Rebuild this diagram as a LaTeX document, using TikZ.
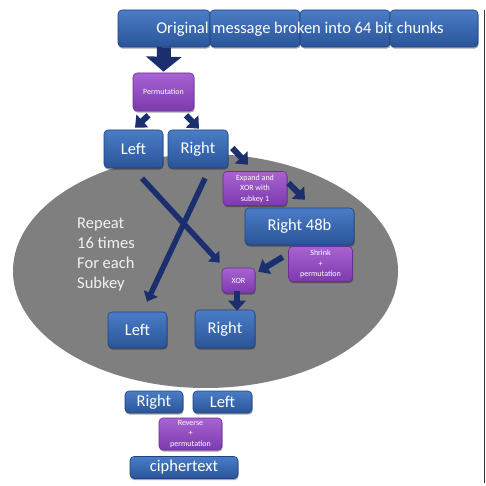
\documentclass[tikz,border=0pt]{standalone}
\usepackage{fontspec}
\setmainfont{Carlito}
\usetikzlibrary{arrows.meta,shadows}
\definecolor{navy}{HTML}{1B2F6E}
\definecolor{bluetop}{HTML}{4A7DC6}
\definecolor{bluebot}{HTML}{2A5499}
\definecolor{blueedge}{HTML}{1E4282}
\definecolor{purptop}{HTML}{A862D2}
\definecolor{purpbot}{HTML}{7D3AAD}
\definecolor{purpedge}{HTML}{6A2E96}
\definecolor{ellgray}{HTML}{7F7F7F}
\tikzset{
  softshadow/.style={drop shadow={shadow xshift=0.6pt, shadow yshift=-1.6pt, opacity=0.35, fill=black}},
  bluebox/.style={softshadow, rounded corners=4pt, top color=bluetop, bottom color=bluebot, draw=blueedge, line width=0.6pt, text=white, inner sep=0pt, font=\fontsize{16.5}{18}\selectfont},
  purpbox/.style={softshadow, rounded corners=4pt, top color=purptop, bottom color=purpbot, draw=purpedge, line width=0.6pt, text=white, inner sep=0pt, align=center, font=\fontsize{8}{10.5}\selectfont},
  fatarrow/.style={draw=navy, line width=6pt, -{Triangle[width=17pt,length=10pt]}},
  crossarrow/.style={draw=navy, line width=5.5pt, -{Triangle[width=15pt,length=9pt]}},
  bigarrow/.style={draw=navy, line width=14pt, -{Triangle[width=35pt,length=15pt]}},
}
\begin{document}
\begin{tikzpicture}[x=1pt,y=-1pt]
\useasboundingbox[fill=white] (0,0) rectangle (486,486);
% gray loop ellipse
\fill[ellgray] (205.5,271) ellipse [x radius=192.5, y radius=117];
% slide border
\draw[black!80, line width=0.8pt] (484,10) -- (484,483);
% top bar
\node[bluebox, minimum width=92pt, minimum height=37pt] (b1) at (164,28.5) {};
\node[bluebox, minimum width=90pt, minimum height=37pt] (b2) at (255,28.5) {};
\node[bluebox, minimum width=90pt, minimum height=37pt] (b3) at (345,28.5) {};
\node[bluebox, minimum width=88pt, minimum height=37pt] (b4) at (434,28.5) {};
\node[text=white, font=\fontsize{16.5}{18}\selectfont] (msg) at (300,29.5) {Original message broken into 64 bit chunks};
% permutation
\node[purpbox, minimum width=61pt, minimum height=38pt] (perm) at (163.5,92) {Permutation};
\node[bluebox, minimum width=59pt, minimum height=38pt] (l0) at (133.5,149) {Left};
\node[bluebox, minimum width=60pt, minimum height=38pt] (r0) at (198,149) {Right};
% round
\node[purpbox, minimum width=64pt, minimum height=34pt] (exp) at (255,188.5) {Expand and\\XOR with\\subkey 1};
\node[bluebox, minimum width=109pt, minimum height=37pt] (r48) at (299.5,226.5) {Right 48b};
\node[purpbox, minimum width=64pt, minimum height=35pt] (shr) at (320.5,264) {Shrink\\+\\permutation};
\node[purpbox, minimum width=33pt, minimum height=25pt] (xor) at (238.5,280.5) {XOR};
\node[bluebox, minimum width=59pt, minimum height=36pt] (l1) at (137.5,330) {Left};
\node[bluebox, minimum width=60pt, minimum height=38pt] (r1) at (225,329) {Right};
\node[text=black!5, align=left, anchor=north west, inner sep=0pt, font=\fontsize{16.5}{20}\selectfont] (rep) at (77,218) {Repeat\\16 times\\For each\\Subkey};
% final
\node[bluebox, minimum width=58pt, minimum height=22pt] (rf) at (154,402) {Right};
\node[bluebox, minimum width=59pt, minimum height=22pt] (lf) at (222.5,402) {Left};
\node[purpbox, minimum width=63pt, minimum height=32pt] (rev) at (190.5,434) {Reverse\\+\\permutation};
\node[bluebox, minimum width=108pt, minimum height=22pt] (ct) at (184,467.5) {ciphertext};
% arrows
\draw[bigarrow] ([yshift=0pt]b1.south) -- ([yshift=1pt]perm.north);
\draw[fatarrow] ([xshift=-15pt,yshift=-4pt]perm.south) -- ([xshift=1.5pt,yshift=2pt]l0.north);
\draw[fatarrow] ([xshift=22.5pt,yshift=-4pt]perm.south) -- ([xshift=1pt,yshift=1pt]r0.north);
\draw[fatarrow] ([xshift=4pt,yshift=1pt]r0.east) -- ([xshift=-7pt,yshift=6.5pt]exp.north);
\draw[fatarrow] ([xshift=1pt,yshift=5.5pt]exp.east) -- ([xshift=5.5pt,yshift=8pt]r48.north);
\draw[fatarrow] ([xshift=-5.5pt,yshift=7pt]shr.west) -- ([xshift=3pt,yshift=-4pt]xor.north east);
\draw[fatarrow] ([xshift=-1.5pt,yshift=2pt]xor.south) -- ([xshift=12pt,yshift=-1pt]r1.north);
\draw[crossarrow] ([xshift=8.5pt,yshift=-10pt]l0.south) -- ([xshift=-2pt,yshift=5pt]xor.north west);
\draw[crossarrow] ([xshift=7pt,yshift=-10pt]r0.south) -- ([xshift=9.5pt,yshift=10pt]l1.north);
\end{tikzpicture}
\end{document}
